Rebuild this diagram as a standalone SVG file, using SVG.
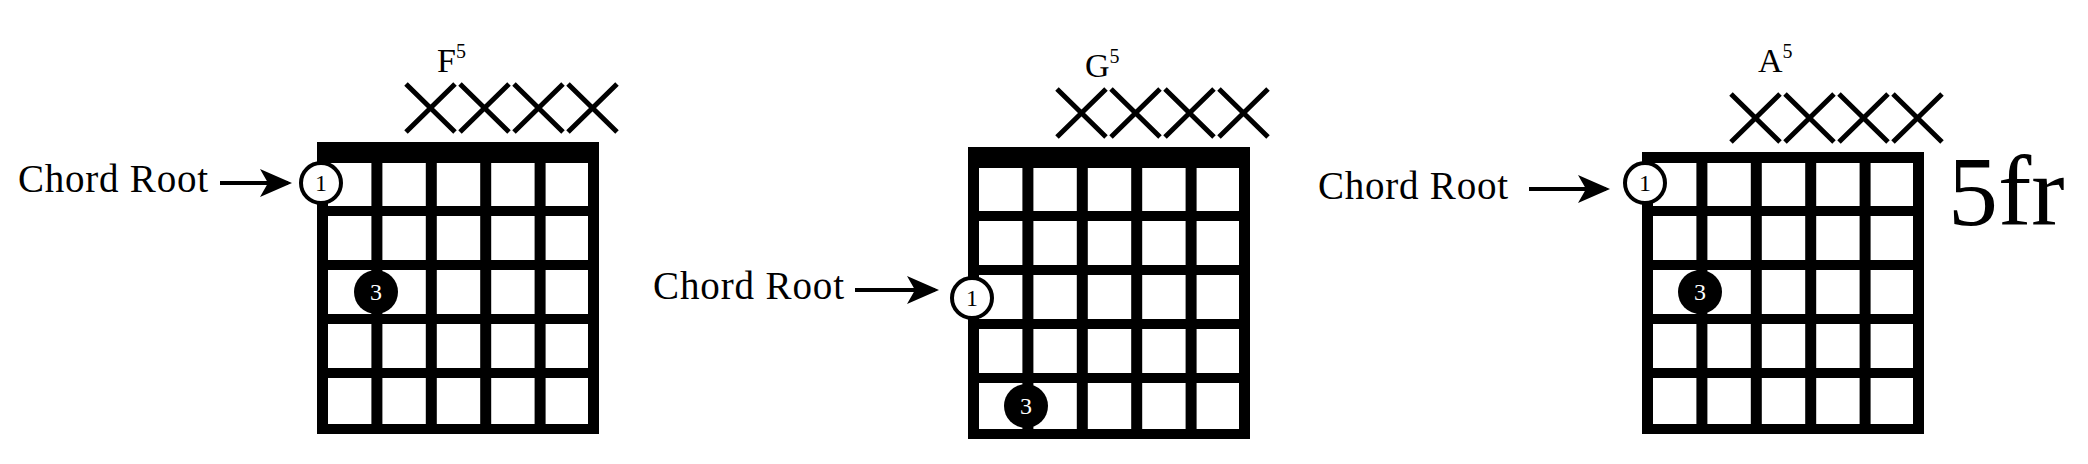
<svg xmlns="http://www.w3.org/2000/svg" width="2088" height="464" viewBox="0 0 2088 464">
<style>
.t{font-family:"Liberation Serif","Times New Roman",serif;fill:#000}
.v{stroke:#000;stroke-width:11}
.h{stroke:#000;stroke-width:10}
.x{stroke:#000;stroke-width:5}
.root{fill:#fff;stroke:#000;stroke-width:4}
.num{font-family:"Liberation Serif",serif;font-size:24px;text-anchor:middle}
</style>
<defs>
<marker id="ah" markerWidth="8" markerHeight="8" refX="7" refY="4" orient="auto" markerUnits="strokeWidth"><path d="M0,0.5 L8,4 L0,7.5 L2,4 Z" fill="#000"/></marker>
<g id="frets">
<line class="h" x1="0" y1="69" x2="282" y2="69"/>
<line class="h" x1="0" y1="123" x2="282" y2="123"/>
<line class="h" x1="0" y1="177" x2="282" y2="177"/>
<line class="h" x1="0" y1="231" x2="282" y2="231"/>
<line class="h" x1="0" y1="287" x2="282" y2="287"/>
</g>
<g id="strings">
<line class="v" x1="5.5" y1="0" x2="5.5" y2="292"/>
<line class="v" x1="59.9" y1="0" x2="59.9" y2="292"/>
<line class="v" x1="114.3" y1="0" x2="114.3" y2="292"/>
<line class="v" x1="168.7" y1="0" x2="168.7" y2="292"/>
<line class="v" x1="223.1" y1="0" x2="223.1" y2="292"/>
<line class="v" x1="276.5" y1="0" x2="276.5" y2="292"/>
</g>
<g id="xs">
<path class="x" d="M89,-58 l49,48 M138,-58 l-49,48 M143,-58 l49,48 M192,-58 l-49,48 M197,-58 l49,48 M246,-58 l-49,48 M251,-58 l49,48 M300,-58 l-49,48"/>
</g>
</defs>

<g id="connectors">
<line x1="220" y1="183" x2="288" y2="183" stroke="#000" stroke-width="4" marker-end="url(#ah)"/>
<line x1="855" y1="290" x2="935" y2="290" stroke="#000" stroke-width="4" marker-end="url(#ah)"/>
<line x1="1529" y1="189" x2="1606" y2="189" stroke="#000" stroke-width="4" marker-end="url(#ah)"/>
</g>

<g id="chord-F5" transform="translate(317,142)">
<rect x="0" y="0" width="282" height="21" fill="#000"/>
<use href="#strings"/>
<use href="#frets"/>
<use href="#xs"/>
<text class="t" x="120" y="-70" font-size="34">F<tspan font-size="20" dy="-14">5</tspan></text>
<circle class="root" cx="4" cy="41" r="20"/>
<text class="num" x="4" y="49">1</text>
<circle cx="59" cy="150" r="22" fill="#000"/>
<text class="num" x="59" y="158" fill="#fff">3</text>
</g>
<text id="label-1" class="t" x="18" y="192" font-size="39" textLength="190">Chord Root</text>

<g id="chord-G5" transform="translate(968,147)">
<rect x="0" y="0" width="282" height="21" fill="#000"/>
<use href="#strings"/>
<use href="#frets"/>
<use href="#xs"/>
<text class="t" x="117" y="-70" font-size="34">G<tspan font-size="20" dy="-14">5</tspan></text>
<circle class="root" cx="4" cy="151" r="20"/>
<text class="num" x="4" y="159">1</text>
<circle cx="58" cy="259" r="22" fill="#000"/>
<text class="num" x="58" y="267" fill="#fff">3</text>
</g>
<text id="label-2" class="t" x="653" y="299" font-size="39" textLength="191">Chord Root</text>

<g id="chord-A5" transform="translate(1642,142)">
<rect x="0" y="10" width="282" height="11" fill="#000"/>
<g transform="translate(0,10) scale(1,0.9658)"><use href="#strings"/></g>
<use href="#frets"/>
<g transform="translate(0,10)"><use href="#xs"/></g>
<text class="t" x="116" y="-70" font-size="34">A<tspan font-size="20" dy="-14">5</tspan></text>
<circle class="root" cx="3" cy="41" r="20"/>
<text class="num" x="3" y="49">1</text>
<circle cx="58" cy="150" r="22" fill="#000"/>
<text class="num" x="58" y="158" fill="#fff">3</text>
</g>
<text id="label-3" class="t" x="1318" y="199" font-size="39" textLength="190">Chord Root</text>
<text id="fret-label" class="t" x="1948" y="225" font-size="100">5fr</text>
</svg>
